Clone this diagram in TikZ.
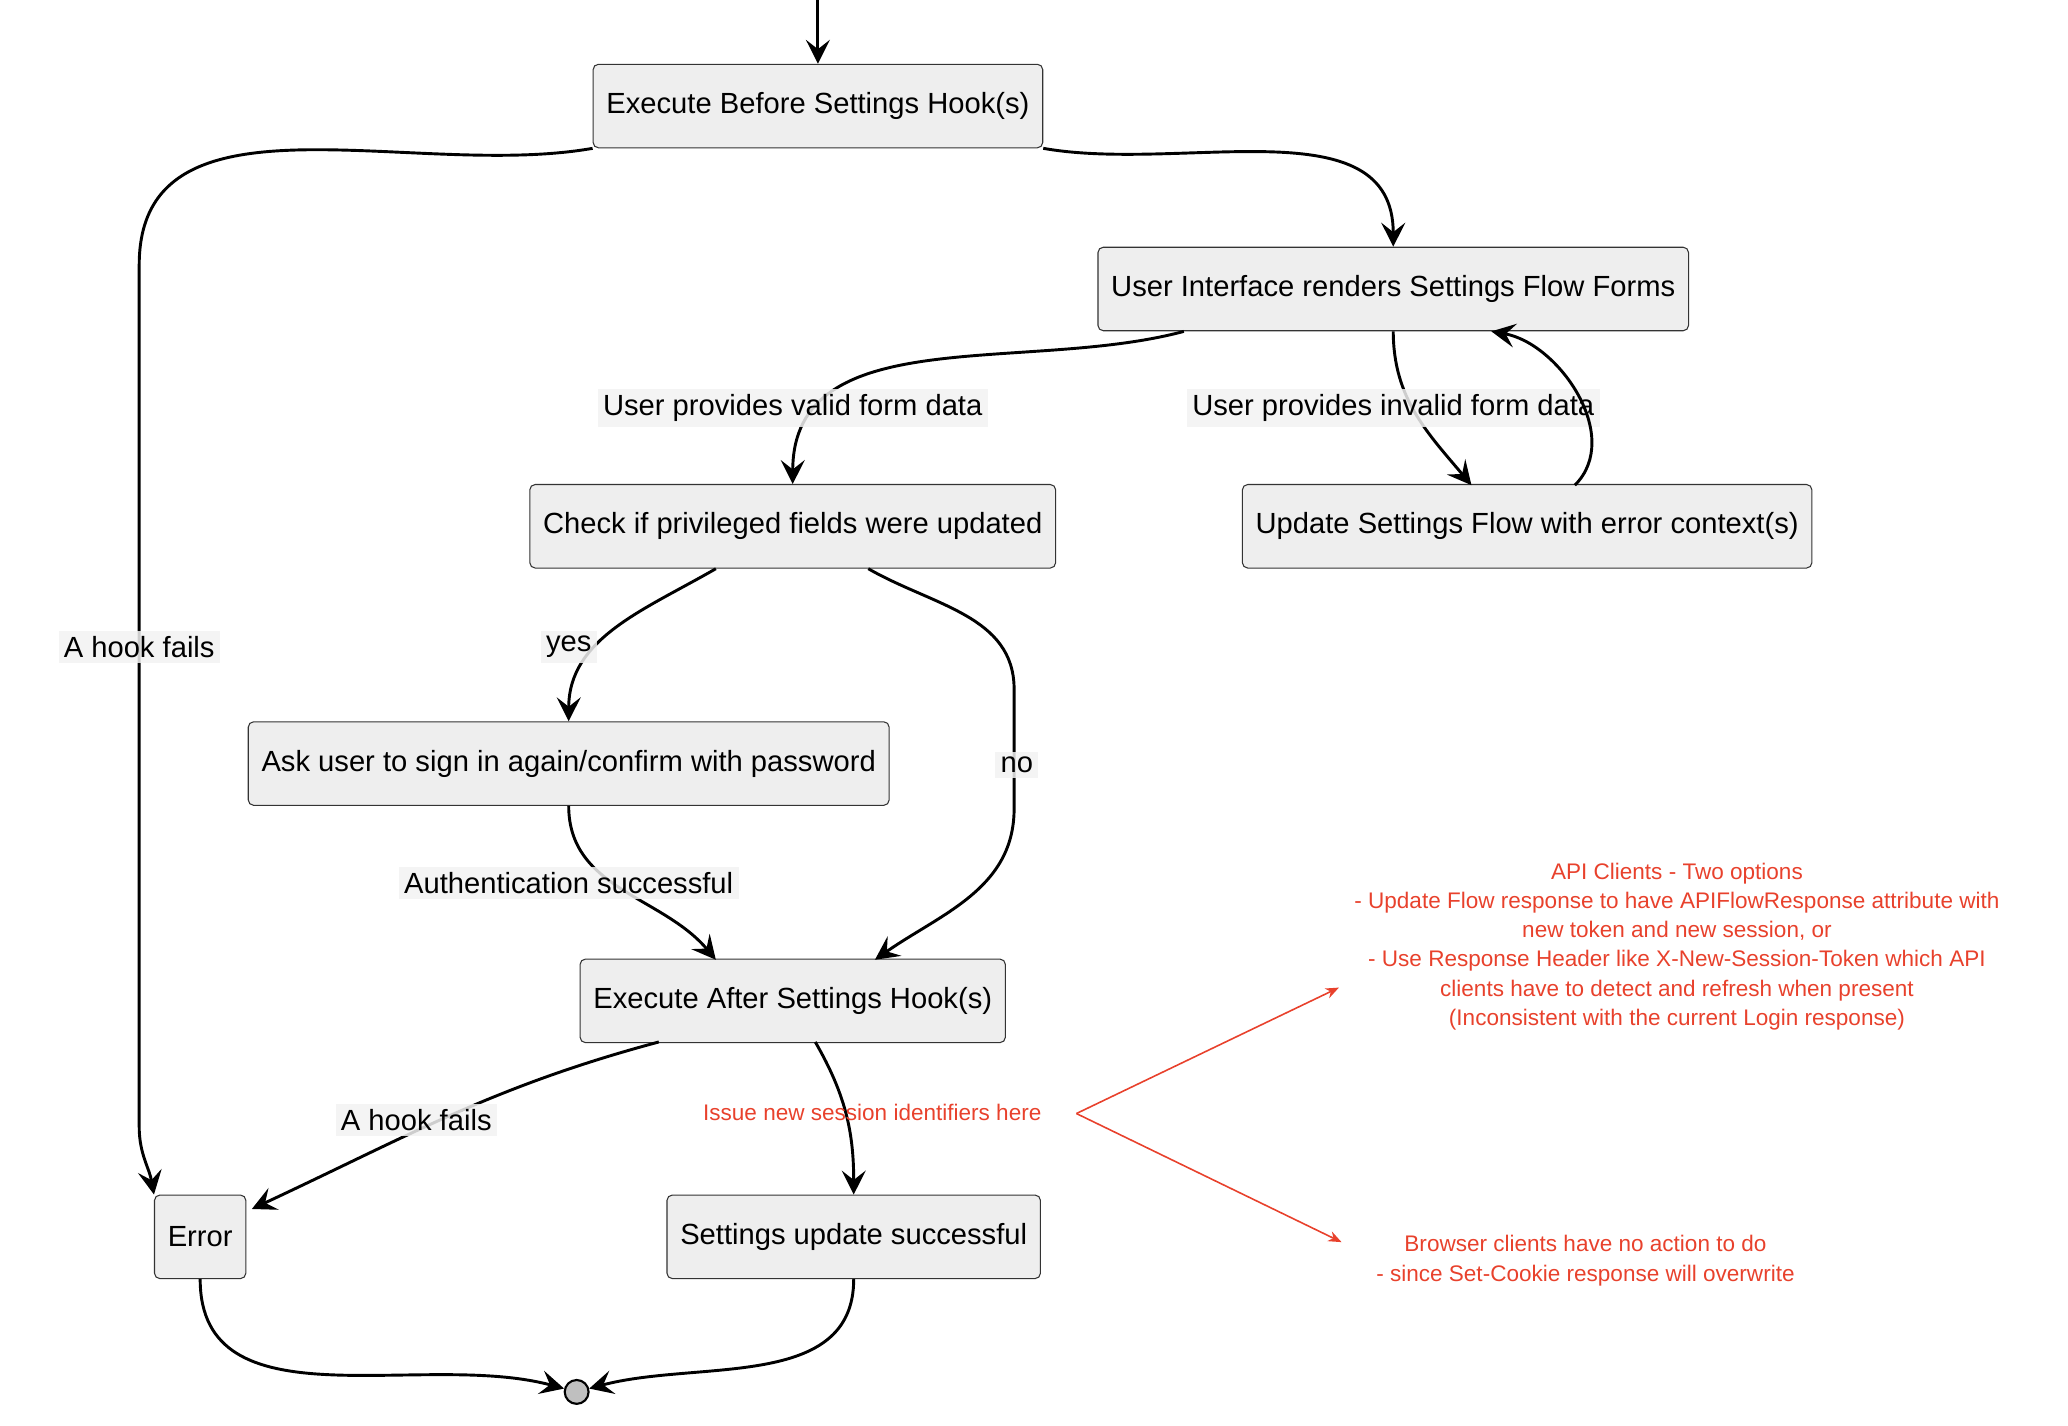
\documentclass[tikz,border=0pt]{standalone}
\usepackage{fontspec}
\setmainfont{Liberation Sans}
\usetikzlibrary{arrows.meta}
\definecolor{boxfill}{HTML}{EEEEEE}
\definecolor{lblbg}{HTML}{F2F2F2}
\definecolor{note}{HTML}{E8412C}
\begin{document}
\begin{tikzpicture}[x=0.5pt,y=-0.5pt,
  box/.style={draw=black!80,fill=boxfill,rounded corners=2pt,minimum height=31.5pt,
    inner xsep=5pt,font=\fontsize{11}{13}\selectfont},
  flow/.style={line width=1.1pt,-{Stealth[length=9pt,width=9pt,inset=3.5pt]}},
  lbl/.style={fill=lblbg,fill opacity=0.85,text opacity=1,inner sep=2pt,font=\fontsize{11}{13}\selectfont},
  rednote/.style={text=note,font=\fontsize{8.5}{11}\selectfont,align=center},
  redarrow/.style={draw=note,line width=0.6pt,-{Stealth[length=5pt,width=4pt]}}]
\useasboundingbox (0,0) rectangle (1560,1075);

% nodes
\node[box] (before) at (617,80) {Execute Before Settings Hook(s)};
\node[box] (ui) at (1051,218) {User Interface renders Settings Flow Forms};
\node[box] (check) at (598,397) {Check if privileged fields were updated};
\node[box] (upd) at (1152,397) {Update Settings Flow with error context(s)};
\node[box] (ask) at (429,576) {Ask user to sign in again/confirm with password};
\node[box] (after) at (598,755) {Execute After Settings Hook(s)};
\node[box] (err) at (151,933) {Error};
\node[box] (ok) at (644,933) {Settings update successful};
\node[circle,draw=black,fill=black!25,line width=0.8pt,minimum size=9pt,inner sep=0pt] (end) at (435,1050) {};
\coordinate (start) at (617,0);

% connectors
\draw[flow] (start) -- (before);
\draw[flow] (before.south west) to[out=190,in=90] (105,200) -- (105,850) to[out=270,in=100] (err.north west);
\node[lbl] at (105,488) {A hook fails};
\draw[flow] (before.south east) to[out=-10,in=90] (ui.north);
\draw[flow] (893,250) to[out=-165,in=90] (check.north);
\node[lbl] at (598,308) {User provides valid form data};
\draw[flow] (ui.south) to[out=-90,in=130] (1110,366);
\node[lbl] at (1051,308) {User provides invalid form data};
\draw[flow] (1188,366) to[out=45,in=-10] (1125,250);
\draw[flow] (540,429) to[out=-150,in=90] (ask.north);
\node[lbl] at (429,488) {yes};
\draw[flow] (655,429) to[out=-30,in=90] (765,520) -- (765,610) to[out=-90,in=35] (660,724);
\node[lbl] at (767,577) {no};
\draw[flow] (ask.south) to[out=-90,in=130] (540,724);
\node[lbl] at (429,666) {Authentication successful};
\draw[flow] (497,786) to[out=-165,in=25] (190,912);
\node[lbl] at (314,845) {A hook fails};
\draw[flow] (615,786) to[out=-60,in=90] (ok.north);
\node[rednote] (issue) at (658,839) {Issue new session identifiers here};
\draw[flow] (err.south) to[out=-90,in=165] (end);
\draw[flow] (ok.south) to[out=-90,in=15] (end);

% notes
\coordinate (fork) at (812,840);
\node[rednote] (api) at (1265,714) {API Clients - Two options\\
- Update Flow response to have APIFlowResponse attribute with\\
new token and new session, or\\
- Use Response Header like X-New-Session-Token which API\\
clients have to detect and refresh when present\\
(Inconsistent with the current Login response)};
\node[rednote] (brow) at (1196,951) {Browser clients have no action to do\\
- since Set-Cookie response will overwrite};
\draw[redarrow] (fork) -- (1010,745);
\draw[redarrow] (fork) -- (1012,937);
\end{tikzpicture}
\end{document}
